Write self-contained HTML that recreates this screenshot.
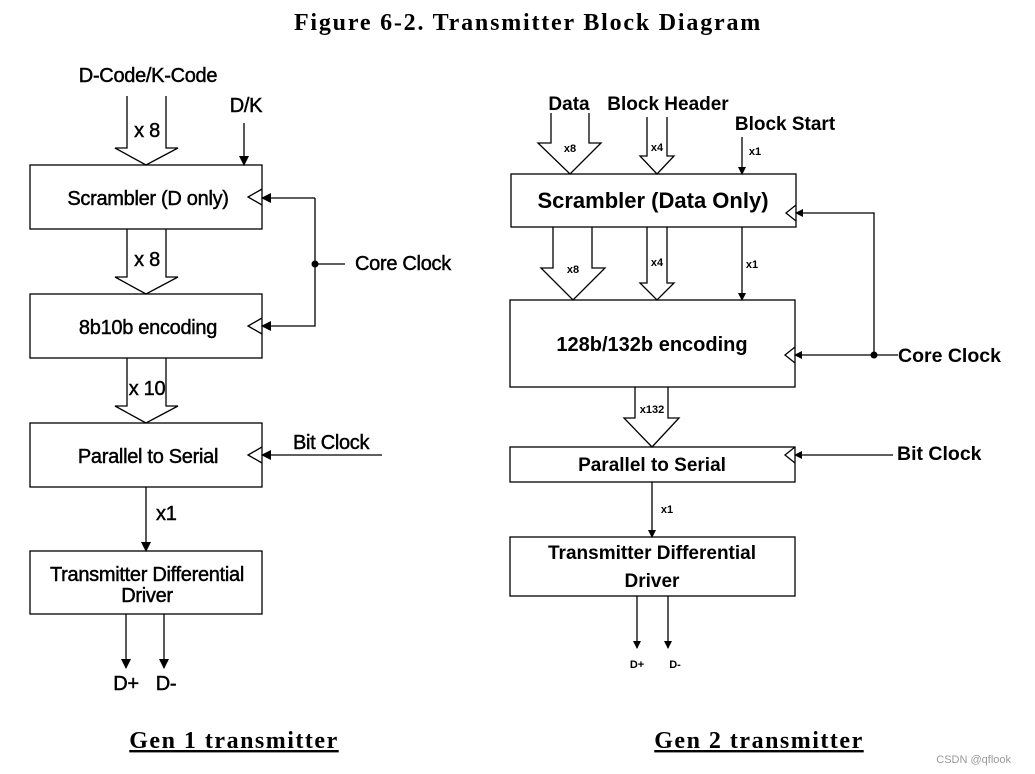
<!DOCTYPE html>
<html><head><meta charset="utf-8"><style>
html,body{margin:0;padding:0;background:#fff;}
svg{display:block;}
.l{font-family:"Liberation Sans",Arial,sans-serif;font-size:20px;fill:#000;stroke:#000;stroke-width:0.45;letter-spacing:-0.3px;}
.r{font-family:"Liberation Sans",Arial,sans-serif;font-weight:bold;fill:#000;}
.t{font-family:"Liberation Serif",serif;font-weight:bold;fill:#000;}
</style></head><body>
<svg width="1035" height="774" viewBox="0 0 1035 774" xmlns="http://www.w3.org/2000/svg">
<defs>
<marker id="ah" markerWidth="10" markerHeight="10" refX="9" refY="5" orient="auto" markerUnits="userSpaceOnUse"><path d="M0,0 L10,5 L0,10 z" fill="#000"/></marker>
<marker id="as" markerWidth="8" markerHeight="8" refX="7" refY="4" orient="auto" markerUnits="userSpaceOnUse"><path d="M0,0 L8,4 L0,8 z" fill="#000"/></marker>
</defs>
<text x="528" y="30" text-anchor="middle" class="t" font-size="24" letter-spacing="1.8">Figure 6-2.  Transmitter Block Diagram</text>

<g fill="none" stroke="#000" stroke-width="1.3">
<!-- LEFT -->
<rect x="30" y="165" width="232" height="64"/>
<rect x="30" y="294" width="232" height="64"/>
<rect x="30" y="423" width="232" height="64"/>
<rect x="30" y="551" width="232" height="63"/>
<path d="M127,96 V148 H115 L146,165 L178,148 H166 V96"/>
<path d="M127,229 V277 H115 L146,294 L178,277 H166 V229"/>
<path d="M127,358 V406 H115 L146,423 L178,406 H166 V358"/>
<path d="M262,189 L248,197 L262,205"/>
<path d="M262,318 L248,326 L262,334"/>
<path d="M262,447 L248,455 L262,463"/>
<line x1="244" y1="123" x2="244" y2="165" marker-end="url(#ah)"/>
<polyline points="315,198 315,326 262,326" marker-end="url(#ah)"/>
<line x1="315" y1="198" x2="262" y2="198" marker-end="url(#ah)"/>
<line x1="315" y1="264" x2="345" y2="264"/>
<line x1="382" y1="455" x2="262" y2="455" marker-end="url(#ah)"/>
<line x1="146" y1="487" x2="146" y2="551" marker-end="url(#ah)"/>
<line x1="126" y1="614" x2="126" y2="668" marker-end="url(#ah)"/>
<line x1="164" y1="614" x2="164" y2="668" marker-end="url(#ah)"/>
<!-- RIGHT -->
<rect x="511" y="174" width="285" height="53"/>
<rect x="510" y="300" width="285" height="87"/>
<rect x="510" y="447" width="285" height="35"/>
<rect x="510" y="537" width="285" height="59"/>
<path d="M551,113 V143 H538 L570,174 L601,143 H589 V113"/>
<path d="M647,117 V156 H640 L657,174 L674,156 H667 V117"/>
<path d="M553,227 V268 H541 L573,300 L605,268 H592 V227"/>
<path d="M647,227 V283 H640 L657,300 L674,283 H667 V227"/>
<path d="M635,387 V418 H624 L652,447 L679,418 H668 V387"/>
<path d="M796,205 L786,213 L796,221"/>
<path d="M795,347 L785,355 L795,363"/>
<path d="M795,447 L785,455 L795,463" />
<line x1="742" y1="137" x2="742" y2="174" marker-end="url(#as)"/>
<line x1="742" y1="227" x2="742" y2="300" marker-end="url(#as)"/>
<polyline points="874,355 874,213 796,213" marker-end="url(#as)"/>
<line x1="898" y1="355" x2="795" y2="355" marker-end="url(#as)"/>
<line x1="893" y1="455" x2="795" y2="455" marker-end="url(#as)"/>
<line x1="652" y1="482" x2="652" y2="537" marker-end="url(#as)"/>
<line x1="637" y1="596" x2="637" y2="648" marker-end="url(#as)"/>
<line x1="668" y1="596" x2="668" y2="648" marker-end="url(#as)"/>
</g>
<circle cx="315" cy="264" r="3.5" fill="#000"/>
<circle cx="874" cy="355" r="3.5" fill="#000"/>

<!-- left text -->
<text x="148" y="82" text-anchor="middle" class="l">D-Code/K-Code</text>
<text x="246" y="112" text-anchor="middle" class="l" font-size="18">D/K</text>
<text x="147" y="137" text-anchor="middle" class="l" font-size="15">x 8</text>
<text x="147" y="266" text-anchor="middle" class="l" font-size="15">x 8</text>
<text x="147" y="395" text-anchor="middle" class="l" font-size="15">x 10</text>
<text x="148" y="205" text-anchor="middle" class="l">Scrambler (D only)</text>
<text x="148" y="334" text-anchor="middle" class="l">8b10b encoding</text>
<text x="148" y="463" text-anchor="middle" class="l">Parallel to Serial</text>
<text x="147" y="581" text-anchor="middle" class="l">Transmitter Differential</text>
<text x="147" y="602" text-anchor="middle" class="l">Driver</text>
<text x="355" y="270" class="l" font-size="18">Core Clock</text>
<text x="293" y="449" class="l" font-size="18">Bit Clock</text>
<text x="156" y="520" class="l" font-size="16">x1</text>
<text x="126" y="690" text-anchor="middle" class="l" font-size="17">D+</text>
<text x="166" y="690" text-anchor="middle" class="l" font-size="17">D-</text>

<!-- right text -->
<text x="569" y="110" text-anchor="middle" class="r" font-size="19">Data</text>
<text x="668" y="110" text-anchor="middle" class="r" font-size="19">Block Header</text>
<text x="785" y="130" text-anchor="middle" class="r" font-size="19">Block Start</text>
<text x="570" y="152" text-anchor="middle" class="r" font-size="11">x8</text>
<text x="657" y="151" text-anchor="middle" class="r" font-size="11">x4</text>
<text x="755" y="155" text-anchor="middle" class="r" font-size="11">x1</text>
<text x="653" y="208" text-anchor="middle" class="r" font-size="22">Scrambler (Data Only)</text>
<text x="573" y="273" text-anchor="middle" class="r" font-size="11">x8</text>
<text x="657" y="266" text-anchor="middle" class="r" font-size="11">x4</text>
<text x="752" y="268" text-anchor="middle" class="r" font-size="11">x1</text>
<text x="652" y="351" text-anchor="middle" class="r" font-size="20">128b/132b encoding</text>
<text x="898" y="362" class="r" font-size="19.5">Core Clock</text>
<text x="897" y="460" class="r" font-size="19.5">Bit Clock</text>
<text x="652" y="413" text-anchor="middle" class="r" font-size="11">x132</text>
<text x="652" y="471" text-anchor="middle" class="r" font-size="19">Parallel to Serial</text>
<text x="667" y="513" text-anchor="middle" class="r" font-size="11">x1</text>
<text x="652" y="559" text-anchor="middle" class="r" font-size="19">Transmitter Differential</text>
<text x="652" y="587" text-anchor="middle" class="r" font-size="19">Driver</text>
<text x="637" y="668" text-anchor="middle" class="r" font-size="11">D+</text>
<text x="675" y="668" text-anchor="middle" class="r" font-size="11">D-</text>

<text x="234" y="748" text-anchor="middle" class="t" font-size="24" text-decoration="underline" letter-spacing="1.5">Gen 1 transmitter</text>
<text x="759" y="748" text-anchor="middle" class="t" font-size="24" text-decoration="underline" letter-spacing="1.5">Gen 2 transmitter</text>
<text x="1011" y="763" text-anchor="end" font-family="Liberation Sans,sans-serif" font-size="11" fill="#999">CSDN @qflook</text>
</svg>
</body></html>
